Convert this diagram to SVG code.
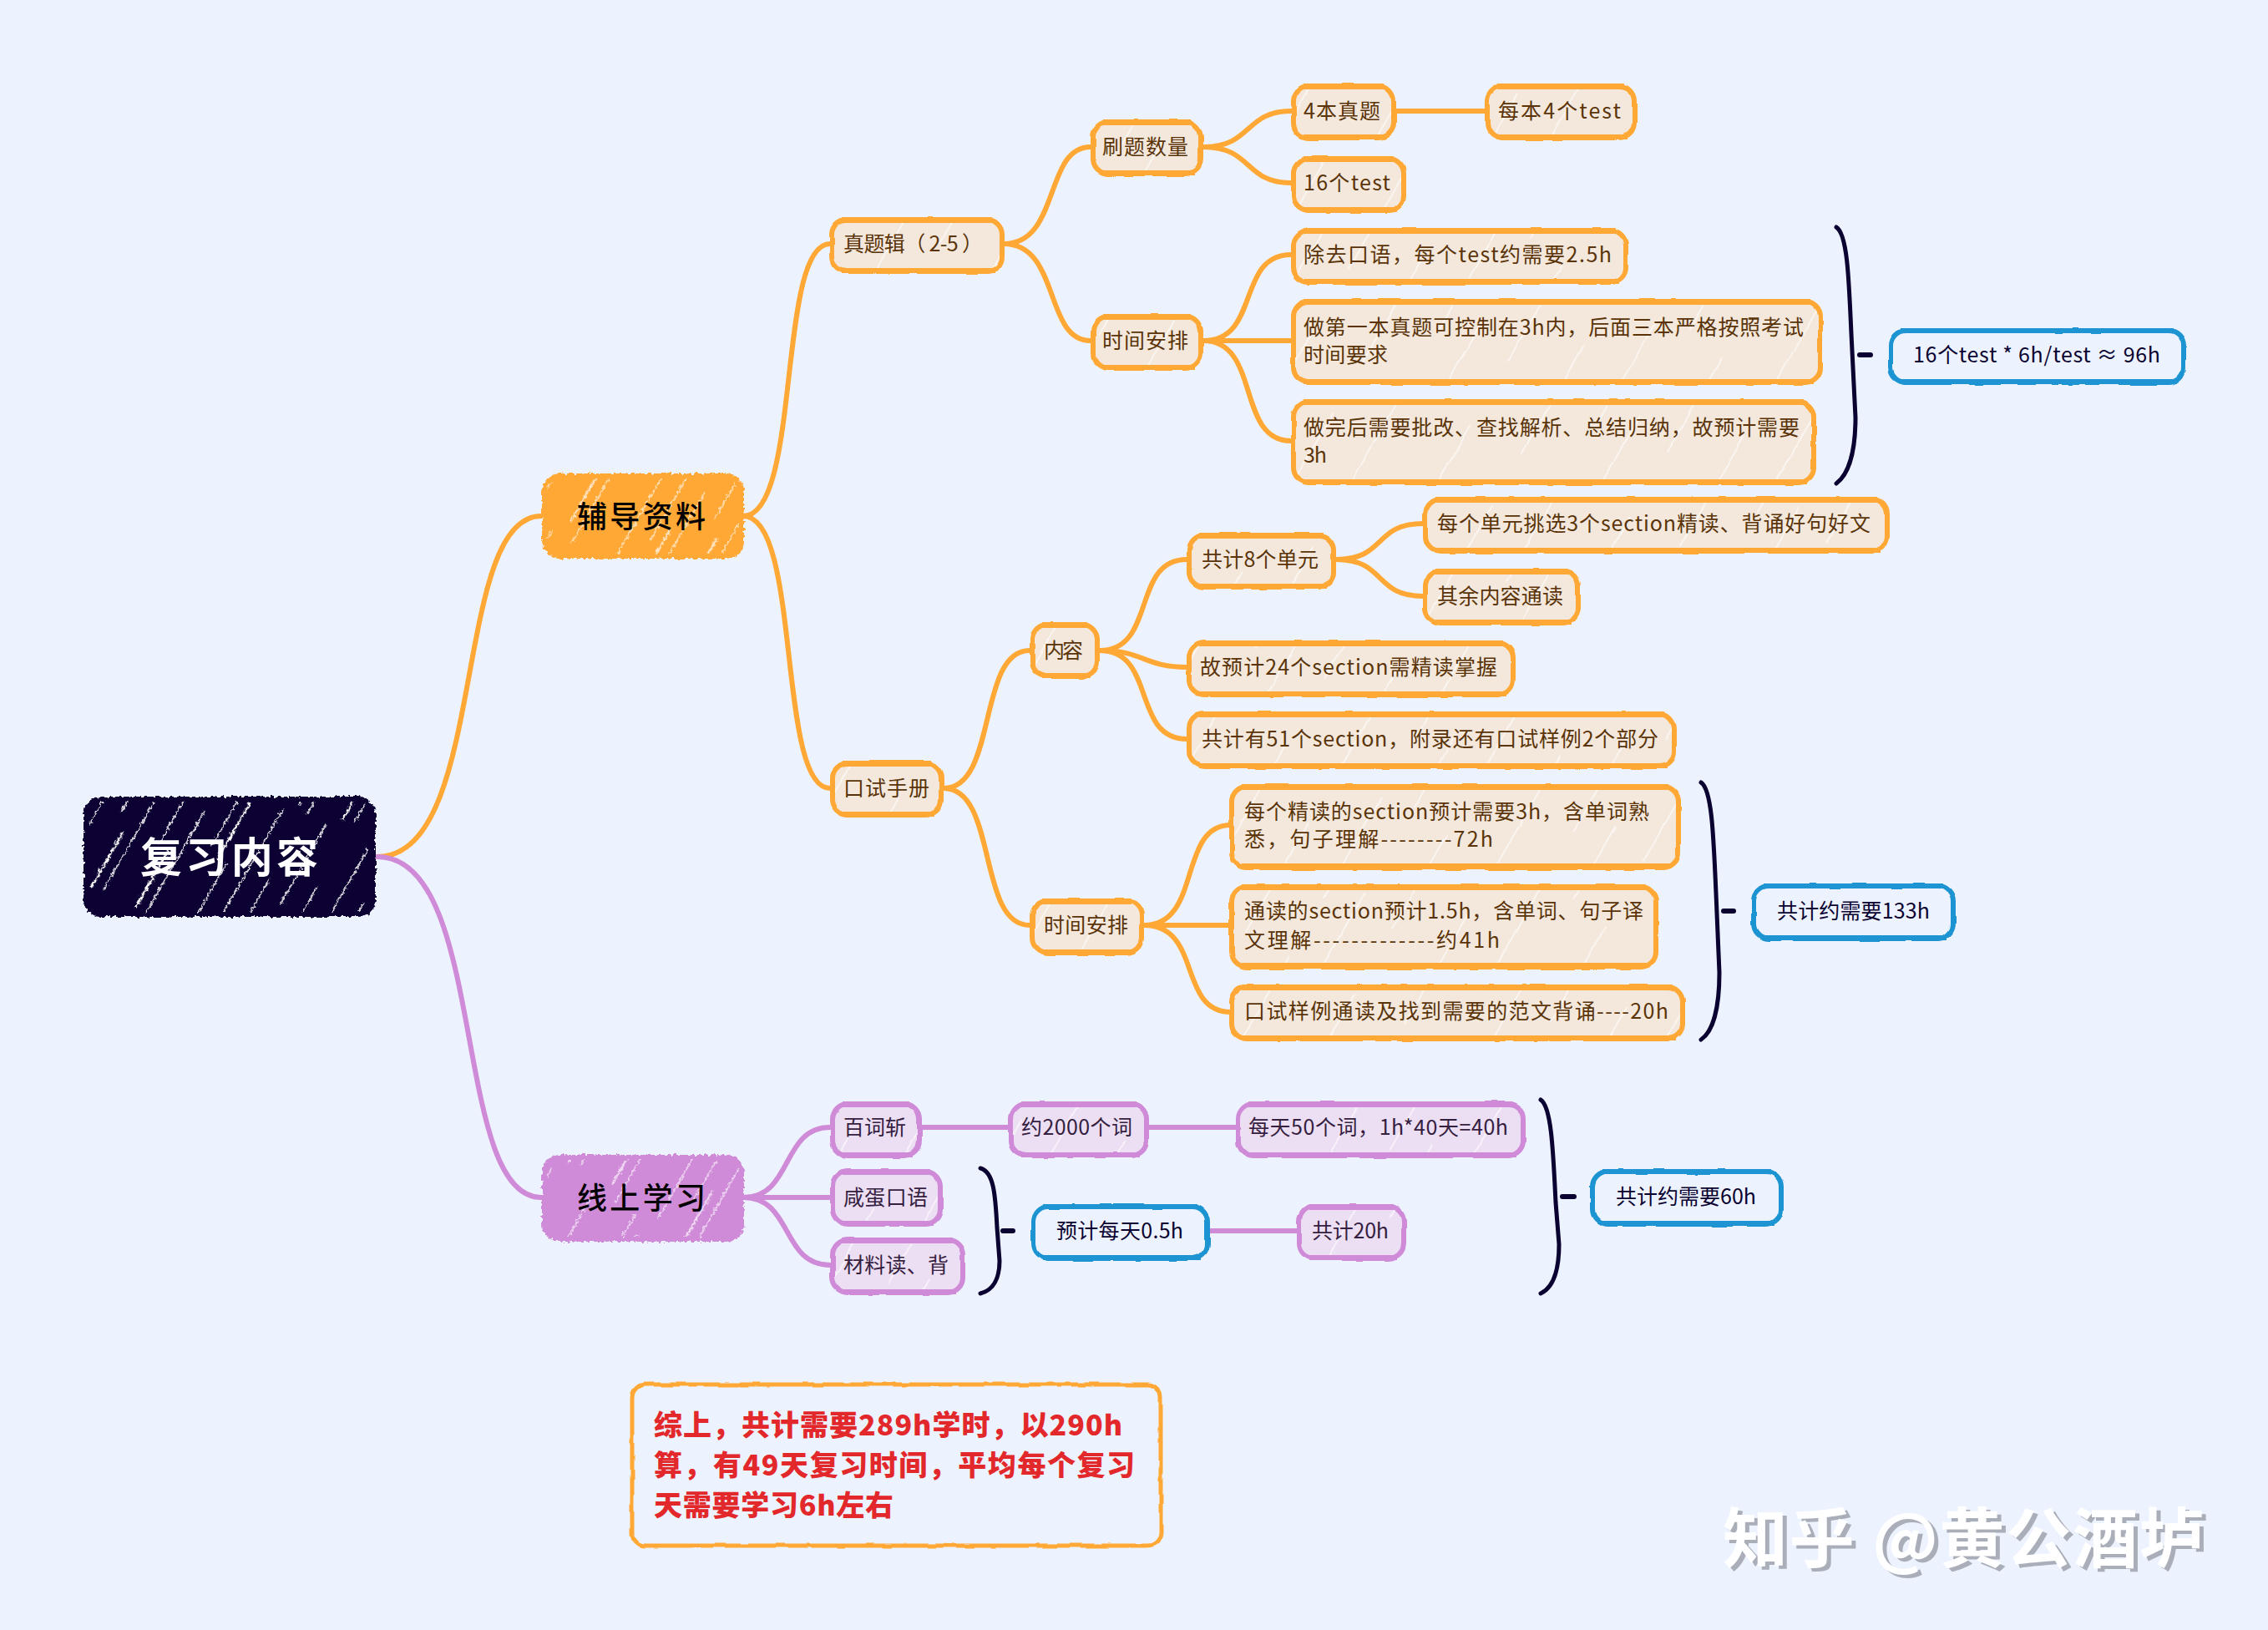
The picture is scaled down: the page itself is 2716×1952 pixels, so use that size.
<svg xmlns="http://www.w3.org/2000/svg" width="2716" height="1952" viewBox="0 0 2716 1952">
<style>
text{font-family:"Noto Sans CJK SC","Noto Sans",sans-serif;dominant-baseline:central;font-size:25px;font-weight:400;transform:translateY(-2px)}
.c{fill:none;stroke-width:6;stroke-linecap:round}
.co{stroke:#ffa835}.cp{stroke:#cf8bd8}
.br{fill:none;stroke:#0a0230;stroke-width:5;stroke-linecap:round}
.ds{fill:none;stroke:#0a0230;stroke-width:6;stroke-linecap:round}
.o{fill:url(#ho);stroke:#ffa835;stroke-width:6;filter:url(#r1)}
.p{fill:url(#hp);stroke:#cf8bd8;stroke-width:6;filter:url(#r1)}
.b{fill:#edf3fe;stroke:#1f94d2;stroke-width:6;filter:url(#r1)}
.bo{fill:#ffa835}.bp{fill:#cf8bd8}.bb{fill:#1f94d2}
.to{fill:#5a3408}.tp{fill:#35203f}.tb{fill:#0a0230}
.tm{fill:#000;font-size:36px;font-weight:500}
.tr{fill:#fff;font-size:50px;font-weight:700}
.ts{fill:#e3282c;font-size:34px;font-weight:900}
.wm{font-size:78px;font-weight:700}
</style>
<defs>
<filter id="r1" x="-5%" y="-10%" width="110%" height="120%"><feTurbulence type="fractalNoise" baseFrequency="0.04" numOctaves="2" seed="3"/><feDisplacementMap in="SourceGraphic" scale="4" xChannelSelector="R" yChannelSelector="G"/></filter>
<filter id="r2" x="-5%" y="-10%" width="110%" height="120%"><feTurbulence type="fractalNoise" baseFrequency="0.25" numOctaves="2" seed="7"/><feDisplacementMap in="SourceGraphic" scale="7" xChannelSelector="R" yChannelSelector="G"/></filter>
<g id="ln" stroke="#fff" fill="none" stroke-linecap="round">
<path d="M10 0V120M38 60V220M66 0V90M92 100V210M118 10V170M146 90V220M172 0V110M200 70V200" stroke-width="1.6"/>
<path d="M24 120V200M80 20V100M132 150V215M186 130V205" stroke-width="2.6"/>
</g>
<g id="ln2" stroke="#fff" fill="none" stroke-linecap="round">
<path d="M20 0V130M90 70V220M150 0V140M190 110V210" stroke-width="1.6"/>
</g>
<pattern id="ho" patternUnits="userSpaceOnUse" width="220" height="220" patternTransform="rotate(30)"><rect width="220" height="220" fill="#f4e8dc"/><use href="#ln2" opacity=".7"/></pattern>
<pattern id="hp" patternUnits="userSpaceOnUse" width="220" height="220" patternTransform="rotate(30)"><rect width="220" height="220" fill="#ecdff4"/><use href="#ln2" opacity=".7"/></pattern>
<pattern id="ha" patternUnits="userSpaceOnUse" width="220" height="220" patternTransform="rotate(30)"><rect width="220" height="220" fill="#ffa835"/><use href="#ln" opacity=".7"/></pattern>
<pattern id="hm" patternUnits="userSpaceOnUse" width="220" height="220" patternTransform="rotate(30)"><rect width="220" height="220" fill="#cf8bd8"/><use href="#ln" opacity=".7"/></pattern>
<pattern id="hr" patternUnits="userSpaceOnUse" width="220" height="220" patternTransform="rotate(30)"><rect width="220" height="220" fill="#0a0230"/><use href="#ln"/></pattern>
</defs>
<rect width="2716" height="1952" fill="#edf3fe"/>
<g id="connectors">
<path class="c co" d="M452 1026C585 1026 540 618 648 618"/>
<path class="c cp" d="M452 1026C585 1026 540 1434 648 1434"/>
<path class="c co" d="M890 618C960 618 930 292 994 292"/>
<path class="c co" d="M890 618C960 618 930 944 994 944"/>
<path class="c co" d="M1202 292C1270 292 1250 176 1306 176"/>
<path class="c co" d="M1202 292C1270 292 1250 408 1306 408"/>
<path class="c co" d="M1441 176C1500 176 1490 133 1546 133"/>
<path class="c co" d="M1441 176C1500 176 1490 219 1546 219"/>
<path class="c co" d="M1441 408C1510 408 1480 305 1546 305"/>
<path class="c co" d="M1441 408H1546"/>
<path class="c co" d="M1441 408C1510 408 1480 528 1546 528"/>
<path class="c co" d="M1672 133H1778"/>
<path class="c co" d="M1130 944C1195 944 1170 779 1233 779"/>
<path class="c co" d="M1130 944C1195 944 1170 1108 1233 1108"/>
<path class="c co" d="M1317 779C1385 779 1355 670 1421 670"/>
<path class="c co" d="M1317 779C1370 779 1370 799 1421 799"/>
<path class="c co" d="M1317 779C1385 779 1355 885 1421 885"/>
<path class="c co" d="M1600 670C1660 670 1645 627 1704 627"/>
<path class="c co" d="M1600 670C1660 670 1645 714 1704 714"/>
<path class="c co" d="M1370 1108C1440 1108 1410 988 1474 988"/>
<path class="c co" d="M1370 1108H1474"/>
<path class="c co" d="M1370 1108C1440 1108 1410 1212 1474 1212"/>
<path class="c cp" d="M890 1434C950 1434 935 1350 994 1350"/>
<path class="c cp" d="M890 1434H994"/>
<path class="c cp" d="M890 1434C950 1434 935 1515 994 1515"/>
<path class="c cp" d="M1104 1350H1208"/>
<path class="c cp" d="M1376 1350H1480"/>
<path class="c cp" d="M1448 1474H1554"/>
</g>
<g id="braces">
<path class="br" d="M2199 272C2212 280 2214 330 2217 400L2222 500C2222 540 2214 568 2199 579"/>
<path class="ds" d="M2227 425H2240"/>
<path class="br" d="M2037 937C2050 945 2052 1000 2055 1070L2059 1165C2059 1205 2052 1235 2037 1245"/>
<path class="ds" d="M2064 1091H2076"/>
<path class="br" d="M1174 1399C1190 1403 1192 1430 1194 1470L1197 1510C1197 1530 1190 1545 1174 1549"/>
<path class="ds" d="M1201 1474H1213"/>
<path class="br" d="M1845 1317C1858 1325 1860 1380 1863 1440L1867 1490C1867 1520 1860 1542 1845 1549"/>
<path class="ds" d="M1871 1433H1885"/>
</g>
<g id="root"><rect x="103" y="957" width="344" height="138" rx="18" fill="url(#hr)" stroke="#0a0230" stroke-width="6" filter="url(#r2)"/><text class="tr" x="168" y="1025" textLength="213">复习内容</text></g>
<g id="n-fudao"><rect x="652" y="570" width="236" height="96" rx="18" fill="url(#ha)" stroke="#ffa835" stroke-width="6" filter="url(#r2)"/><text class="tm" x="691" y="618" textLength="154">辅导资料</text></g>
<g id="n-xianshang"><rect x="652" y="1386" width="236" height="98" rx="18" fill="url(#hm)" stroke="#cf8bd8" stroke-width="6" filter="url(#r2)"/><text class="tm" x="691" y="1434" textLength="154">线上学习</text></g>
<g id="n-zhenti"><rect class="o" x="996" y="263" width="204" height="62" rx="18"/><rect class="bo" x="1008" y="260" width="180" height="7"/><rect class="bo" x="1008" y="321" width="184" height="6"/><text class="to" x="1010" y="292" textLength="167">真题辑（ 2-5 ）</text></g>
<g id="n-shuati"><rect class="o" x="1309" y="146" width="129" height="62" rx="18"/><rect class="bo" x="1321" y="143" width="105" height="7"/><rect class="bo" x="1321" y="204" width="110" height="6"/><text class="to" x="1320" y="176" textLength="103">刷题数量</text></g>
<g id="n-shijian1"><rect class="o" x="1309" y="379" width="129" height="62" rx="18"/><rect class="bo" x="1321" y="376" width="105" height="7"/><rect class="bo" x="1321" y="437" width="110" height="6"/><text class="to" x="1320" y="408" textLength="103">时间安排</text></g>
<g id="n-4ben"><rect class="o" x="1549" y="103" width="120" height="62" rx="18"/><rect class="bo" x="1561" y="100" width="96" height="7"/><rect class="bo" x="1561" y="161" width="100" height="6"/><text class="to" x="1561" y="133" textLength="92">4本真题</text></g>
<g id="n-meiben"><rect class="o" x="1781" y="103" width="176" height="62" rx="18"/><rect class="bo" x="1793" y="100" width="152" height="7"/><rect class="bo" x="1793" y="161" width="156" height="6"/><text class="to" x="1794" y="133" textLength="147">每本4个test</text></g>
<g id="n-16"><rect class="o" x="1549" y="190" width="132" height="62" rx="18"/><rect class="bo" x="1561" y="187" width="108" height="7"/><rect class="bo" x="1561" y="248" width="112" height="6"/><text class="to" x="1561" y="219" textLength="104">16个test</text></g>
<g id="n-chuqu"><rect class="o" x="1549" y="276" width="398" height="62" rx="18"/><rect class="bo" x="1561" y="273" width="374" height="7"/><rect class="bo" x="1561" y="334" width="378" height="6"/><text class="to" x="1561" y="305" textLength="369">除去口语，每个test约需要2.5h</text></g>
<g id="n-zuodi"><rect class="o" x="1549" y="361" width="631" height="97" rx="18"/><rect class="bo" x="1561" y="358" width="607" height="7"/><rect class="bo" x="1561" y="454" width="611" height="6"/><text class="to" x="1561" y="392" textLength="599">做第一本真题可控制在3h内，后面三本严格按照考试</text><text class="to" x="1561" y="425" textLength="101">时间要求</text></g>
<g id="n-zuowan"><rect class="o" x="1549" y="481" width="623" height="97" rx="18"/><rect class="bo" x="1561" y="478" width="599" height="7"/><rect class="bo" x="1561" y="574" width="603" height="6"/><text class="to" x="1561" y="512" textLength="594">做完后需要批改、查找解析、总结归纳，故预计需要</text><text class="to" x="1561" y="545" textLength="28">3h</text></g>
<g id="n-96h"><rect class="b" x="2264" y="396" width="351" height="62" rx="18"/><rect class="bb" x="2276" y="393" width="327" height="6"/><rect class="bb" x="2276" y="454" width="331" height="6"/><text class="tb" x="2291" y="425" textLength="296">16个test * 6h/test ≈ 96h</text></g>
<g id="n-kouyu"><rect class="o" x="997" y="914" width="130" height="62" rx="18"/><rect class="bo" x="1009" y="911" width="106" height="7"/><rect class="bo" x="1009" y="972" width="110" height="6"/><text class="to" x="1010" y="944" textLength="103">口试手册</text></g>
<g id="n-neirong"><rect class="o" x="1236" y="748" width="78" height="62" rx="18"/><rect class="bo" x="1248" y="745" width="54" height="7"/><rect class="bo" x="1248" y="806" width="58" height="6"/><text class="to" x="1250" y="779" textLength="47">内容</text></g>
<g id="n-shijian2"><rect class="o" x="1236" y="1079" width="131" height="62" rx="18"/><rect class="bo" x="1248" y="1076" width="107" height="7"/><rect class="bo" x="1248" y="1137" width="111" height="6"/><text class="to" x="1250" y="1108" textLength="101">时间安排</text></g>
<g id="n-8"><rect class="o" x="1424" y="641" width="173" height="62" rx="18"/><rect class="bo" x="1436" y="638" width="149" height="7"/><rect class="bo" x="1436" y="699" width="153" height="6"/><text class="to" x="1439" y="670" textLength="140">共计8个单元</text></g>
<g id="n-meige"><rect class="o" x="1707" y="598" width="553" height="62" rx="18"/><rect class="bo" x="1719" y="595" width="529" height="7"/><rect class="bo" x="1719" y="656" width="533" height="6"/><text class="to" x="1721" y="627" textLength="519">每个单元挑选3个section精读、背诵好句好文</text></g>
<g id="n-qiyu"><rect class="o" x="1707" y="684" width="183" height="62" rx="18"/><rect class="bo" x="1719" y="681" width="159" height="7"/><rect class="bo" x="1719" y="742" width="163" height="6"/><text class="to" x="1721" y="714" textLength="151">其余内容通读</text></g>
<g id="n-gu"><rect class="o" x="1424" y="770" width="388" height="62" rx="18"/><rect class="bo" x="1436" y="767" width="364" height="7"/><rect class="bo" x="1436" y="828" width="368" height="6"/><text class="to" x="1437" y="799" textLength="356">故预计24个section需精读掌握</text></g>
<g id="n-51"><rect class="o" x="1424" y="855" width="581" height="63" rx="18"/><rect class="bo" x="1436" y="852" width="557" height="7"/><rect class="bo" x="1436" y="914" width="561" height="6"/><text class="to" x="1439" y="885" textLength="547">共计有51个section，附录还有口试样例2个部分</text></g>
<g id="n-jingdu"><rect class="o" x="1475" y="942" width="535" height="97" rx="18"/><rect class="bo" x="1487" y="939" width="511" height="7"/><rect class="bo" x="1487" y="1034" width="515" height="6"/><text class="to" x="1490" y="972" textLength="485">每个精读的section预计需要3h，含单词熟</text><text class="to" x="1490" y="1005" textLength="298">悉，句子理解--------72h</text></g>
<g id="n-tongdu"><rect class="o" x="1475" y="1062" width="508" height="96" rx="18"/><rect class="bo" x="1487" y="1059" width="484" height="7"/><rect class="bo" x="1487" y="1153" width="488" height="6"/><text class="to" x="1490" y="1091" textLength="478">通读的section预计1.5h，含单词、句子译</text><text class="to" x="1490" y="1126" textLength="306">文理解-------------约41h</text></g>
<g id="n-yangli"><rect class="o" x="1475" y="1182" width="540" height="62" rx="18"/><rect class="bo" x="1487" y="1179" width="516" height="7"/><rect class="bo" x="1487" y="1240" width="520" height="6"/><text class="to" x="1490" y="1211" textLength="508">口试样例通读及找到需要的范文背诵----20h</text></g>
<g id="n-133"><rect class="b" x="2100" y="1061" width="239" height="63" rx="18"/><rect class="bb" x="2112" y="1058" width="215" height="6"/><rect class="bb" x="2112" y="1120" width="219" height="6"/><text class="tb" x="2128" y="1091" textLength="183">共计约需要133h</text></g>
<g id="n-bai"><rect class="p" x="997" y="1322" width="104" height="62" rx="18"/><rect class="bp" x="1009" y="1319" width="80" height="7"/><rect class="bp" x="1009" y="1380" width="84" height="6"/><text class="tp" x="1010" y="1350" textLength="75">百词斩</text></g>
<g id="n-2000"><rect class="p" x="1211" y="1322" width="162" height="62" rx="18"/><rect class="bp" x="1223" y="1319" width="138" height="7"/><rect class="bp" x="1223" y="1380" width="142" height="6"/><text class="tp" x="1223" y="1350" textLength="133">约2000个词</text></g>
<g id="n-50"><rect class="p" x="1483" y="1322" width="341" height="62" rx="18"/><rect class="bp" x="1495" y="1319" width="317" height="7"/><rect class="bp" x="1495" y="1380" width="321" height="6"/><text class="tp" x="1495" y="1350" textLength="311">每天50个词，1h*40天=40h</text></g>
<g id="n-xiandan"><rect class="p" x="997" y="1403" width="129" height="63" rx="18"/><rect class="bp" x="1009" y="1400" width="105" height="7"/><rect class="bp" x="1009" y="1462" width="109" height="6"/><text class="tp" x="1010" y="1434" textLength="101">咸蛋口语</text></g>
<g id="n-cailiao"><rect class="p" x="997" y="1485" width="156" height="63" rx="18"/><rect class="bp" x="1009" y="1482" width="132" height="7"/><rect class="bp" x="1009" y="1544" width="136" height="6"/><text class="tp" x="1010" y="1515" textLength="126">材料读、背</text></g>
<g id="n-yuji"><rect class="b" x="1237" y="1445" width="209" height="62" rx="18"/><rect class="bb" x="1249" y="1442" width="185" height="6"/><rect class="bb" x="1249" y="1503" width="189" height="6"/><text class="tb" x="1265" y="1474" textLength="152">预计每天0.5h</text></g>
<g id="n-20h"><rect class="p" x="1556" y="1445" width="125" height="62" rx="18"/><rect class="bp" x="1568" y="1442" width="101" height="7"/><rect class="bp" x="1568" y="1503" width="105" height="6"/><text class="tp" x="1571" y="1474" textLength="92">共计20h</text></g>
<g id="n-60h"><rect class="b" x="1907" y="1403" width="226" height="63" rx="18"/><rect class="bb" x="1919" y="1400" width="202" height="6"/><rect class="bb" x="1919" y="1462" width="206" height="6"/><text class="tb" x="1935" y="1433" textLength="168">共计约需要60h</text></g>
<g id="n-summary"><rect x="757" y="1658" width="633" height="193" rx="16" fill="#edf3fe" stroke="#ffa835" stroke-width="5" filter="url(#r1)"/><text class="ts" x="783" y="1706" textLength="561">综上，共计需要289h学时，以290h</text><text class="ts" x="783" y="1754" textLength="576">算，有49天复习时间，平均每个复习</text><text class="ts" x="783" y="1802" textLength="287">天需要学习6h左右</text></g>
<g id="watermark"><text class="wm" x="2068" y="1843" textLength="577" fill="#a9aeb8">知乎 @黄公酒垆</text><text class="wm" x="2063" y="1839" textLength="577" fill="#fff">知乎 @黄公酒垆</text></g>
</svg>
